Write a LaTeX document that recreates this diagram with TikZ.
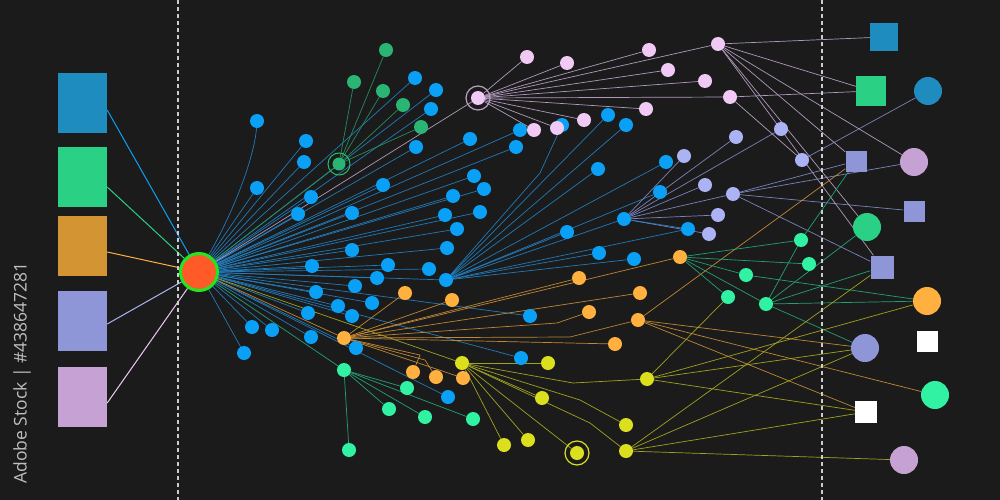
\documentclass[tikz,border=0pt]{standalone}
\usepackage{fontspec}
\newfontfamily\wmfont{Open Sans}
\usetikzlibrary{calc}
\pgfdeclarelayer{edges}
\pgfsetlayers{edges,main}
\definecolor{bgc}{HTML}{1B1B1B}
\definecolor{cblue}{HTML}{0AA0F5}
\definecolor{cgreen}{HTML}{2AB574}
\definecolor{cteal}{HTML}{30F2A2}
\definecolor{corange}{HTML}{FFB03F}
\definecolor{cyellow}{HTML}{DCDF1E}
\definecolor{cpink}{HTML}{F0C9F5}
\definecolor{clav}{HTML}{ABB3F5}
\definecolor{ebl}{HTML}{2180C2}
\definecolor{epk}{HTML}{B9A0C4}
\definecolor{elv}{HTML}{8088C4}
\definecolor{eor}{HTML}{C88C35}
\definecolor{eye}{HTML}{A8AA20}
\definecolor{ete}{HTML}{24A878}
\definecolor{egr}{HTML}{2A9060}
\definecolor{sqblue}{HTML}{1F8CBF}
\definecolor{sqgreen}{HTML}{2AD184}
\definecolor{sqorange}{HTML}{D39534}
\definecolor{sqlav}{HTML}{8E96D8}
\definecolor{sqpink}{HTML}{C6A2D4}
\definecolor{hubc}{HTML}{FF5A28}
\definecolor{ringc}{HTML}{22E622}
\tikzset{
  dot/.style={circle,inner sep=0pt,minimum size=14pt},
  bn/.style={dot,fill=cblue},
  gn/.style={dot,fill=cgreen},
  tn/.style={dot,fill=cteal},
  on/.style={dot,fill=corange},
  yn/.style={dot,fill=cyellow},
  pn/.style={dot,fill=cpink},
  ln/.style={dot,fill=clav},
  bigc/.style={circle,inner sep=0pt,minimum size=28pt},
  sqr/.style={rectangle,inner sep=0pt,minimum size=#1},
  lsq/.style={rectangle,inner sep=0pt,minimum width=49pt,minimum height=60pt},
  ed/.style={line width=0.7pt,opacity=0.95},
  be/.style={ed,draw=ebl},
  pe/.style={ed,draw=epk},
  le/.style={ed,draw=elv},
  oe/.style={ed,draw=eor},
  ye/.style={ed,draw=eye},
  te/.style={ed,draw=ete},
  ge/.style={ed,draw=egr},
}
\begin{document}
\begin{tikzpicture}[x=1pt,y=-1pt]
\begin{pgfonlayer}{edges}
\fill[bgc] (0,0) rectangle (1000,500);
\end{pgfonlayer}
\useasboundingbox (0,0) rectangle (1000,500);
\draw[color=white!80!black,line width=1.5pt,dash pattern=on 4pt off 3pt] (178,0) -- (178,500);
\draw[color=white!80!black,line width=1.5pt,dash pattern=on 4pt off 3pt] (822,0) -- (822,500);
\node[rotate=90,text=white!75!black,font=\wmfont\fontsize{17.5}{17.5}\selectfont] (wm) at (22,373) {Adobe Stock | \#438647281};
% left squares
\node[lsq,fill=sqblue] (ls1) at (82.5,103) {};
\node[lsq,fill=sqgreen] (ls2) at (82.5,177) {};
\node[lsq,fill=sqorange] (ls3) at (82.5,246) {};
\node[lsq,fill=sqlav] (ls4) at (82.5,321) {};
\node[lsq,fill=sqpink] (ls5) at (82.5,397) {};
% hub
\node[circle,fill=hubc,draw=ringc,line width=3pt,minimum size=37pt,inner sep=0pt] (H) at (199,272) {};
% blue nodes
\foreach \n/\x/\y in {b1/257/121,b2/306/141,b3/304/162,b4/257/188,b5/311/197,b6/298/214,b7/415/78,b8/436/90,b9/431/109,b10/416/147,b11/470/139,b12/520/130,b13/516/147,b14/383/185,b15/474/176,b16/484/189,b17/453/196,b18/480/212,b19/445/215,b20/457/229,b21/352/213,b22/352/250,b23/447/248,b24/312/266,b25/388/265,b26/429/269,b27/377/278,b28/355/286,b29/316/292,b30/338/306,b31/372/303,b32/352/316,b33/308/313,b34/311/337,b35/356/348,b36/530/316,b37/521/358,b38/448/397,b39/252/327,b40/272/330,b41/244/353,B1/446/280,b42/562/125,b43/608/115,b44/626/125,b45/598/169,b46/666/162,b47/660/192,B2/624/219,b48/567/232,b49/599/253,b50/634/259,b51/688/229}
  \node[bn] (\n) at (\x,\y) {};
% green ring
\node[gn,minimum size=13pt] (G) at (339,164) {};
\draw[cgreen!80!ringc,line width=1pt] (G) circle[radius=11pt];
\foreach \n/\x/\y in {g1/386/50,g2/354/82,g3/383/91,g4/403/105,g5/421/127}
  \node[gn] (\n) at (\x,\y) {};
% pink
\foreach \n/\x/\y in {p1/527/57,p2/567/63,p3/649/50,p4/668/70,p5/705/81,p6/730/97,p7/646/109,p8/584/120,p9/557/128,p10/534/130,P2/718/44}
  \node[pn] (\n) at (\x,\y) {};
\node[pn] (PR) at (478,98) {};
\draw[epk,line width=1.2pt] (PR) circle[radius=12pt];
% lavender
\foreach \n/\x/\y in {l1/781/129,l2/736/137,l3/684/156,l4/802/160,l5/705/185,L/733/194,l6/718/215,l7/709/234}
  \node[ln] (\n) at (\x,\y) {};
% orange
\foreach \n/\x/\y in {o1/405/293,o2/452/300,O1/344/338,o3/579/278,o4/640/293,o5/589/312,O2/638/320,o6/615/344,o7/413/372,o8/436/377,o9/463/378,o10/680/257}
  \node[on] (\n) at (\x,\y) {};
% yellow
\foreach \n/\x/\y in {Y1/462/363,y1/548/363,Y2/647/379,y2/542/398,y3/626/425,Y3/626/451,y4/504/445,y5/528/440}
  \node[yn] (\n) at (\x,\y) {};
\node[yn] (YR) at (577,453) {};
\draw[cyellow,line width=1.2pt] (YR) circle[radius=12pt];
% teal
\foreach \n/\x/\y in {T1/344/370,t1/407/388,t2/389/409,t3/425/417,t4/473/419,t5/349/450,t6/801/240,t7/809/264,t8/746/275,t9/728/297,T2/766/304}
  \node[tn] (\n) at (\x,\y) {};
% right shapes
\node[sqr=28pt,fill=sqblue] (sq1) at (884,37) {};
\node[sqr=30pt,fill=sqgreen] (sq2) at (871,91) {};
\node[bigc,fill=sqblue] (c1) at (928,91) {};
\node[sqr=21pt,fill=sqlav] (sq3) at (856,161) {};
\node[bigc,fill=sqpink] (c2) at (914,162) {};
\node[sqr=21pt,fill=sqlav] (sq4) at (914,211) {};
\node[bigc,fill=sqgreen] (c3) at (867,227) {};
\node[sqr=23pt,fill=sqlav] (sq5) at (882,267) {};
\node[bigc,fill=corange] (c4) at (927,301) {};
\node[sqr=21pt,fill=white] (sq6) at (927,341) {};
\node[bigc,fill=sqlav] (c5) at (865,348) {};
\node[bigc,fill=cteal] (c6) at (935,395) {};
\node[sqr=22pt,fill=white] (sq7) at (866,412) {};
\node[bigc,fill=sqpink] (c7) at (904,460) {};
% edges
\begin{pgfonlayer}{edges}
\draw[cblue,line width=1pt] ($(ls1.east)+(0,7)$) -- (H);
\draw[sqgreen,line width=1pt] ($(ls2.east)+(0,10)$) -- (H);
\draw[corange,line width=1pt] ($(ls3.east)+(0,6)$) -- (H);
\draw[clav,line width=1pt] ($(ls4.east)+(0,3)$) -- (H);
\draw[cpink,line width=1pt] ($(ls5.east)+(0,6)$) -- (H);
\draw[be] (H) .. controls (240,200) and (255,150) .. (b1);
\foreach \n in {b2,b3,b4,b5,b6,b7,b8,b9,b10,b11,b12,b13,b14,b15,b16,b17,b18,b19,b20,b21,b22,b23,b24,b25,b26,b27,b28,b29,b30,b31,b32,b33,b34,b35,b36,b37,b38,b39,b40,b41,B1}
  \draw[be] (H) -- (\n);
\draw[ge] (H) -- (G);
\draw[pe] (H) -- (PR);
\draw[oe] (H) -- (O1);
\draw[te] (H) -- (T1);
\draw[ye] (H) -- (Y1);
\foreach \n in {g1,g2,g3,g4,g5} \draw[ge] (G) -- (\n);
\draw[be] (B1) -- (540,173) -- (b42);
\foreach \n in {b43,b44,b45,b46,b47,B2,b48,b49,b50,b51} \draw[be] (B1) -- (\n);
\foreach \n in {l1,l2,l3,l5,L,l6,l7} \draw[le] (B2) -- (\n);
\draw[be] (B2) -- (b51);
\foreach \n in {sq3,c2,sq4,sq5} \draw[le] (L) -- (\n);
\draw[le] (l4) -- (c1);
\draw[pe] (p6) -- (l4);
\foreach \n in {p1,p2,p3,p4,p5,p6,p7,p8,p9,p10,P2} \draw[pe] (PR) -- (\n);
\foreach \n in {sq1,sq2,c2,sq3,sq5,c3} \draw[pe] (P2) -- (\n);
\draw[pe] (p6) -- (sq2);
% orange
\foreach \n in {o1,o2,o3,o4,o6,o9,o10} \draw[oe] (O1) -- (\n);
\draw[oe] (O1) -- (557,323) -- (o5);
\draw[oe] (O1) -- (570,337) -- (O2);
\draw[oe] (O1) -- (420,355) -- (o7);
\draw[oe] (O1) -- (425,360) -- (o8);
\foreach \n in {sq3,c5,c6,sq7} \draw[oe] (O2) -- (\n);
% teal
\foreach \n in {t1,t2,t3,t4,t5} \draw[te] (T1) -- (\n);
\foreach \n in {t6,t7,t8,t9,T2} \draw[te] (o10) -- (\n);
\foreach \n in {t6,c3,sq5,c4,c5} \draw[te] (T2) -- (\n);
\draw[te] (t8) -- (c4);
\draw[te] (t6) -- (sq3);
% yellow
\foreach \n in {y1,y2,y4,y5,YR} \draw[ye] (Y1) -- (\n);
\draw[ye] (Y1) -- (573,383) -- (Y2);
\draw[ye] (Y1) -- (580,400) -- (y3);
\draw[ye] (Y1) -- (590,423) -- (Y3);
\foreach \n in {c4,c5,sq7,t9} \draw[ye] (Y2) -- (\n);
\foreach \n in {sq5,c5,sq7,c7} \draw[ye] (Y3) -- (\n);
\end{pgfonlayer}
\end{tikzpicture}
\end{document}
